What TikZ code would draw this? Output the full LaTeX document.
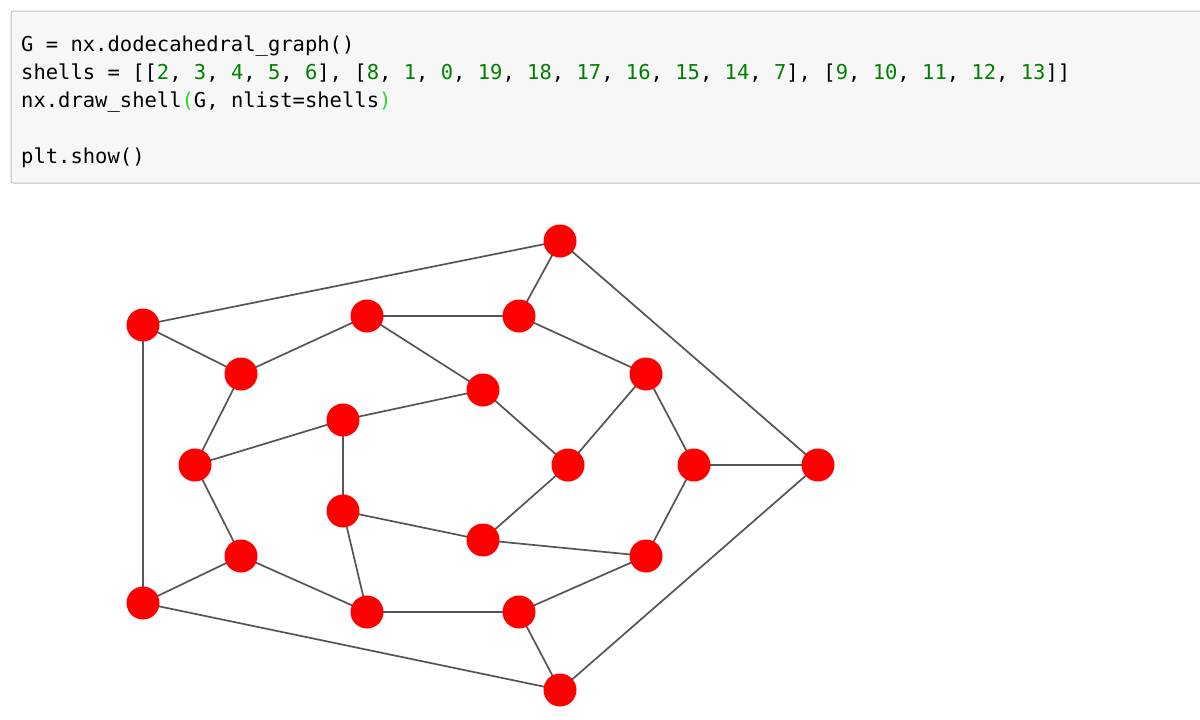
\documentclass[tikz,border=0pt]{standalone}
\usepackage{fontspec}
\newfontfamily\code{DejaVu Sans Mono}
\definecolor{num}{HTML}{008000}
\definecolor{par}{HTML}{22DD22}
\definecolor{edgec}{HTML}{555555}
\begin{document}
\begin{tikzpicture}[x=1pt,y=-1pt,
  codeline/.style={anchor=base west,inner sep=0pt,font=\code\fontsize{20.5}{23}\selectfont},
  vert/.style={circle,fill=red,draw=none,minimum size=33pt,inner sep=0pt},
  edge/.style={draw=edgec,line width=1.7pt}]
\useasboundingbox (0,0) rectangle (1200,720);
\fill[white] (0,0) rectangle (1200,720);
\draw[draw=black!25,line width=1pt,fill=black!3,rounded corners=2pt] (11,11) rectangle (1210,183);
\newcommand\nm[1]{\textcolor{num}{#1}}
\node[codeline] (l1) at (21,51) {G = nx.dodecahedral\_graph()};
\node[codeline] (l2) at (21,79) {shells = [[\nm{2}, \nm{3}, \nm{4}, \nm{5}, \nm{6}], [\nm{8}, \nm{1}, \nm{0}, \nm{19}, \nm{18}, \nm{17}, \nm{16}, \nm{15}, \nm{14}, \nm{7}], [\nm{9}, \nm{10}, \nm{11}, \nm{12}, \nm{13}]]};
\node[codeline] (l3) at (21,107) {nx.draw\_shell\textcolor{par}{(}G, nlist=shells\textcolor{par}{)}};
\node[codeline] (l4) at (21,163) {plt.show()};
% outer
\coordinate (o1) at (560,241); \coordinate (o2) at (143,325); \coordinate (o3) at (143,603);
\coordinate (o4) at (560,690); \coordinate (o5) at (818,465);
% middle
\coordinate (m1) at (367,316); \coordinate (m2) at (519,316); \coordinate (m3) at (646,374);
\coordinate (m4) at (694,465); \coordinate (m5) at (646,556); \coordinate (m6) at (519,612);
\coordinate (m7) at (367,612); \coordinate (m8) at (241,556); \coordinate (m9) at (195,465);
\coordinate (m10) at (241,374);
% inner
\coordinate (i1) at (483,390); \coordinate (i2) at (568,465); \coordinate (i3) at (483,540);
\coordinate (i4) at (343,511); \coordinate (i5) at (343,420);
\foreach \a/\b in {o1/o2,o2/o3,o3/o4,o4/o5,o5/o1,
  o1/m2,o2/m10,o3/m8,o4/m6,o5/m4,
  m1/m2,m2/m3,m3/m4,m4/m5,m5/m6,m6/m7,m7/m8,m8/m9,m9/m10,m10/m1,
  m1/i1,m3/i2,m5/i3,m7/i4,m9/i5,
  i1/i2,i2/i3,i3/i4,i4/i5,i5/i1}
  \draw[edge] (\a) -- (\b);
\foreach \n in {o1,o2,o3,o4,o5,m1,m2,m3,m4,m5,m6,m7,m8,m9,m10,i1,i2,i3,i4,i5}
  \node[vert] (v\n) at (\n) {};
\end{tikzpicture}
\end{document}
